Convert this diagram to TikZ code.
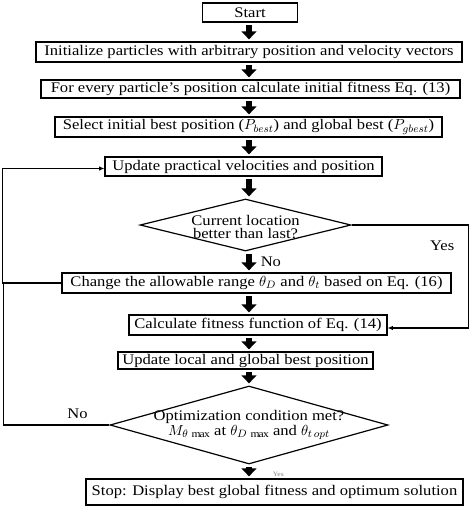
\documentclass[tikz,border=0pt]{standalone}
\usepackage{fontspec}
\setmainfont{Liberation Serif}[FakeStretch=1.13]
\usetikzlibrary{shapes.geometric, arrows.meta}
\tikzset{process/.style={draw,line width=0.9pt,inner sep=0pt,font=\fontsize{11}{12}\selectfont},
         decision/.style={draw,diamond,line width=0.9pt,inner sep=0pt},
         flow/.style={line width=5pt,-{Triangle[length=6pt,width=11pt]},shorten <=2pt,shorten >=1.5pt},
         back/.style={line width=0.8pt,-{Latex[length=4pt,width=3.5pt]}},
         note/.style={font=\fontsize{11}{12}\selectfont},
        }

\begin{document}
\begin{tikzpicture}[x=0.75pt,y=-0.75pt]
        \useasboundingbox(0,0)rectangle(474,508);
        \coordinate(axis)at(249,0);
        \node[process,minimum width=71.25pt,minimum height=14.25pt](start)at(250,12.5){Start};
        \node[process,minimum width=319.5pt,minimum height=15pt](init)at(249,52){Initialize particles with arbitrary position and velocity vectors};
        \node[process,minimum width=314.25pt,minimum height=13.5pt](fit)at(250.5,89){For every particle's position calculate initial fitness Eq. (13)};
        \node[process,minimum width=290.25pt,minimum height=15pt](best)at(248.5,127){Select initial best position ($P_{best}$) and global best ($P_{gbest}$)};
        \node[process,minimum width=207.75pt,minimum height=14.25pt](update)at(243.5,166.5){Update practical velocities and position};
        \node[decision,minimum width=158.25pt,minimum height=39pt,
              label={[align=center,yshift=-1.5pt,font=\fontsize{11}{9.5}\selectfont]center:Current location\\better than last?}](loc)at(245.5,225){};
        \node[process,minimum width=291.75pt,minimum height=15pt](range)at(256.5,283){Change the allowable range $\theta_D$ and $\theta_t$ based on Eq. (16)};
        \node[process,minimum width=193.5pt,minimum height=15pt](calc)at(258,325){Calculate fitness function of Eq. (14)};
        \node[process,minimum width=191.25pt,minimum height=12.75pt](local)at(245.5,360.5){Update local and global best position};
        \node[decision,minimum width=208.5pt,minimum height=58.5pt,
              label={[align=center,font=\fontsize{11}{9.5}\selectfont]center:Optimization condition met?\\$M_{\theta\,\max}$ at $\theta_{D\,\max}$ and $\theta_{t\,opt}$}](cond)at(249,425){};
        \node[process,minimum width=282.75pt,minimum height=19.5pt](stop)at(274.5,492){Stop: Display best global fitness and optimum solution};
        % main flow
        \draw[flow](start.south -| axis)--(init.north -| axis);
        \draw[flow](init.south -| axis)--(fit.north -| axis);
        \draw[flow](fit.south -| axis)--(best.north -| axis);
        \draw[flow](best.south -| axis)--(update.north -| axis);
        \draw[flow](update.south -| axis)--(loc.north -| axis);
        \draw[flow](loc.south -| axis)--(range.north -| axis)node[note,midway,right=3pt](no1){No};
        \draw[flow](range.south -| axis)--(calc.north -| axis);
        \draw[flow](calc.south -| axis)--(local.north -| axis);
        \draw[flow](local.south -| axis)--(cond.north -| axis);
        \draw[flow](cond.south -| axis)--(stop.north -| axis)node[pos=0.7,right=12pt,font=\tiny,text=gray](yes2){Yes};
        % loops
        \draw[back](loc.east)--++(117,0)|-([yshift=-2.25pt]calc.east)node[note,pos=0.1,left=7pt](yes1){Yes};
        \draw[back](range.west)--++(-59,0)|-([yshift=-1.5pt]update.west);
        \draw[line width=0.8pt](cond.west)--++(-106,0)node[note,pos=0.3,above=1pt](no2){No}--++(0,-142);
    \end{tikzpicture}
\end{document}
